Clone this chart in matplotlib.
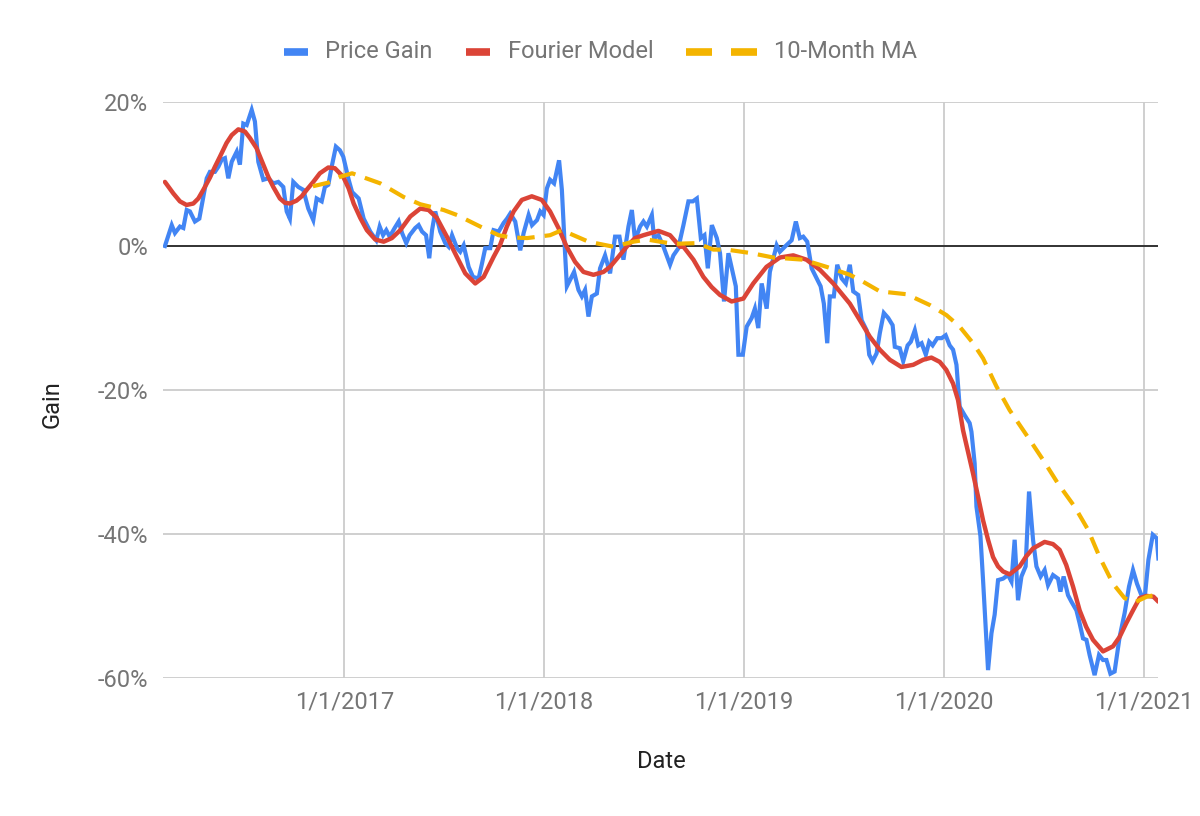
import pandas as pd
import matplotlib
matplotlib.use("Agg")
import matplotlib.pyplot as plt
import matplotlib.dates as mdates
from matplotlib.lines import Line2D
from matplotlib.ticker import FuncFormatter

plt.rcParams["font.family"] = ["Roboto", "DejaVu Sans"]

# --- data (dates as decimal years, values in %) ---
price_years = [
    2016.105, 2016.139, 2016.155, 2016.18, 2016.197, 2016.214, 2016.23, 2016.255, 2016.277, 2016.297,
    2016.314, 2016.33, 2016.355, 2016.372, 2016.389, 2016.405, 2016.422, 2016.439, 2016.464, 2016.48,
    2016.497, 2016.514, 2016.539, 2016.555, 2016.572, 2016.597, 2016.622, 2016.647, 2016.672, 2016.697,
    2016.714, 2016.73, 2016.747, 2016.772, 2016.797, 2016.822, 2016.847, 2016.864, 2016.889, 2016.905,
    2016.922, 2016.939, 2016.96, 2016.98, 2016.997, 2017.022, 2017.039, 2017.072, 2017.097, 2017.13,
    2017.16, 2017.177, 2017.194, 2017.21, 2017.227, 2017.252, 2017.272, 2017.289, 2017.31, 2017.327,
    2017.355, 2017.372, 2017.389, 2017.409, 2017.425, 2017.439, 2017.455, 2017.48, 2017.505, 2017.522,
    2017.539, 2017.564, 2017.58, 2017.597, 2017.622, 2017.644, 2017.672, 2017.689, 2017.705, 2017.73,
    2017.747, 2017.772, 2017.797, 2017.814, 2017.83, 2017.855, 2017.88, 2017.897, 2017.922, 2017.939,
    2017.964, 2017.98, 2017.997, 2018.014, 2018.03, 2018.05, 2018.075, 2018.089, 2018.105, 2018.114,
    2018.13, 2018.15, 2018.172, 2018.189, 2018.205, 2018.222, 2018.239, 2018.264, 2018.28, 2018.305,
    2018.33, 2018.355, 2018.377, 2018.397, 2018.422, 2018.439, 2018.455, 2018.48, 2018.497, 2018.514,
    2018.539, 2018.55, 2018.572, 2018.597, 2018.63, 2018.647, 2018.672, 2018.68, 2018.697, 2018.722,
    2018.744, 2018.764, 2018.784, 2018.802, 2018.819, 2018.839, 2018.864, 2018.88, 2018.9, 2018.922,
    2018.939, 2018.959, 2018.972, 2018.994, 2019.014, 2019.039, 2019.055, 2019.072, 2019.089, 2019.114,
    2019.13, 2019.164, 2019.18, 2019.205, 2019.239, 2019.26, 2019.28, 2019.297, 2019.317, 2019.339,
    2019.364, 2019.384, 2019.4, 2019.417, 2019.43, 2019.45, 2019.467, 2019.489, 2019.51, 2019.53,
    2019.547, 2019.572, 2019.589, 2019.614, 2019.627, 2019.644, 2019.664, 2019.68, 2019.7, 2019.722,
    2019.744, 2019.755, 2019.78, 2019.797, 2019.819, 2019.835, 2019.855, 2019.872, 2019.889, 2019.91,
    2019.927, 2019.944, 2019.967, 2019.989, 2020.01, 2020.03, 2020.047, 2020.064, 2020.08, 2020.105,
    2020.13, 2020.139, 2020.155, 2020.164, 2020.184, 2020.197, 2020.222, 2020.239, 2020.255, 2020.272,
    2020.297, 2020.322, 2020.339, 2020.355, 2020.372, 2020.389, 2020.41, 2020.427, 2020.447, 2020.464,
    2020.485, 2020.505, 2020.522, 2020.547, 2020.572, 2020.584, 2020.6, 2020.622, 2020.639, 2020.664,
    2020.68, 2020.697, 2020.714, 2020.73, 2020.755, 2020.777, 2020.797, 2020.814, 2020.834, 2020.855,
    2020.88, 2020.905, 2020.927, 2020.947, 2020.967, 2020.989, 2021.005, 2021.022, 2021.044, 2021.064,
    2021.072,
]
price_gain = [
    0.0, 2.9, 1.8, 2.7, 2.5, 5.0, 4.8, 3.4, 3.8, 6.8,
    9.4, 10.3, 10.3, 11.0, 12.0, 12.2, 9.4, 11.7, 13.1, 11.3,
    17.0, 16.8, 18.9, 17.3, 11.7, 9.2, 9.4, 8.7, 8.9, 8.2,
    4.8, 3.8, 8.9, 8.2, 7.8, 5.2, 3.6, 6.6, 6.2, 8.2,
    8.5, 11.0, 13.8, 13.3, 12.4, 9.2, 7.5, 6.6, 3.8, 2.0,
    0.8, 2.7, 1.5, 2.2, 1.3, 2.5, 3.4, 1.8, 0.4, 1.5,
    2.5, 2.9, 2.0, 1.5, -1.7, 2.2, 4.8, 2.0, 0.4, -0.1,
    1.5, -0.3, -0.8, 0.1, -2.9, -4.3, -4.5, -2.4, -0.3, -0.3,
    2.2, 2.0, 3.2, 3.8, 4.5, 3.4, -0.6, 1.8, 4.3, 2.9,
    3.6, 4.8, 4.3, 8.0, 9.2, 8.7, 11.9, 7.8, -1.0, -5.6,
    -4.7, -3.6, -6.1, -7.0, -6.1, -9.8, -7.0, -6.6, -3.1, -1.3,
    -3.8, 1.3, 1.3, -1.9, 2.7, 5.0, 0.8, 2.7, 3.4, 2.7,
    4.3, 1.1, 1.5, -0.1, -2.6, -1.3, -0.3, 0.8, 2.9, 6.2,
    6.2, 6.6, 1.1, 1.5, -3.1, 2.9, 1.1, -1.0, -7.7, -1.0,
    -3.1, -5.6, -15.1, -15.1, -11.2, -10.0, -8.7, -11.4, -5.2, -8.7,
    -3.6, 0.1, -0.8, -0.1, 0.8, 3.4, 1.1, 1.3, 0.6, -3.1,
    -4.5, -5.6, -8.0, -13.5, -7.0, -7.0, -2.6, -4.5, -5.2, -2.6,
    -6.3, -6.8, -10.3, -11.7, -15.1, -16.0, -14.9, -12.1, -9.3, -10.0,
    -11.0, -14.0, -14.2, -16.0, -13.8, -13.3, -11.7, -13.8, -13.5, -15.1,
    -13.3, -13.8, -12.8, -12.8, -12.4, -13.8, -14.4, -16.5, -22.3, -23.5,
    -24.6, -25.8, -30.2, -36.2, -40.3, -46.4, -58.9, -53.8, -51.2, -46.4,
    -46.2, -45.7, -46.6, -40.8, -49.2, -45.9, -44.5, -34.1, -40.8, -44.5,
    -45.9, -45.0, -47.1, -45.7, -46.2, -48.0, -45.9, -48.5, -49.4, -50.6,
    -52.4, -54.5, -54.7, -56.8, -59.6, -56.8, -57.5, -57.5, -59.4, -59.1,
    -54.3, -51.0, -47.3, -45.0, -46.9, -48.5, -48.5, -43.6, -40.1, -40.6,
    -43.4,
]

fourier_years = [
    2016.105, 2016.147, 2016.18, 2016.213, 2016.247, 2016.272, 2016.297, 2016.33, 2016.355, 2016.38,
    2016.413, 2016.439, 2016.472, 2016.505, 2016.53, 2016.563, 2016.597, 2016.622, 2016.647, 2016.68,
    2016.705, 2016.73, 2016.763, 2016.789, 2016.814, 2016.847, 2016.88, 2016.922, 2016.955, 2016.997,
    2017.022, 2017.047, 2017.08, 2017.113, 2017.155, 2017.197, 2017.238, 2017.28, 2017.33, 2017.38,
    2017.422, 2017.463, 2017.513, 2017.563, 2017.605, 2017.655, 2017.697, 2017.747, 2017.78, 2017.813,
    2017.847, 2017.888, 2017.938, 2017.988, 2018.03, 2018.072, 2018.113, 2018.155, 2018.197, 2018.247,
    2018.297, 2018.33, 2018.372, 2018.413, 2018.455, 2018.497, 2018.572, 2018.63, 2018.68, 2018.697,
    2018.747, 2018.797, 2018.838, 2018.88, 2018.938, 2018.997, 2019.047, 2019.113, 2019.18, 2019.247,
    2019.313, 2019.38, 2019.447, 2019.53, 2019.58, 2019.63, 2019.68, 2019.73, 2019.788, 2019.847,
    2019.897, 2019.938, 2019.98, 2020.013, 2020.047, 2020.072, 2020.097, 2020.122, 2020.147, 2020.172,
    2020.197, 2020.222, 2020.247, 2020.272, 2020.297, 2020.33, 2020.38, 2020.413, 2020.447, 2020.505,
    2020.547, 2020.58, 2020.613, 2020.647, 2020.68, 2020.713, 2020.747, 2020.797, 2020.847, 2020.88,
    2020.913, 2020.947, 2020.98, 2021.013, 2021.047, 2021.072,
]
fourier_model = [
    8.9, 7.3, 6.2, 5.7, 5.9, 6.6, 7.8, 9.5, 11.0, 12.4,
    14.3, 15.4, 16.2, 15.9, 15.0, 13.6, 11.3, 9.6, 8.2, 6.6,
    6.0, 5.9, 6.3, 6.9, 7.8, 8.9, 10.1, 10.9, 10.8, 9.6,
    8.0, 5.9, 3.9, 2.2, 0.9, 0.6, 1.1, 2.2, 4.1, 5.2,
    5.0, 3.9, 1.3, -1.5, -3.8, -5.2, -4.3, -1.5, 0.2, 2.7,
    4.8, 6.4, 6.9, 6.4, 4.8, 2.5, -0.1, -2.2, -3.6, -4.0,
    -3.6, -2.9, -1.5, -0.1, 1.1, 1.5, 2.1, 1.5, -0.1, -0.1,
    -1.9, -4.3, -5.7, -6.8, -7.7, -7.3, -5.2, -2.9, -1.6, -1.3,
    -1.9, -3.3, -5.2, -8.0, -10.3, -12.6, -14.4, -15.8, -16.8, -16.5,
    -15.8, -15.5, -16.1, -17.2, -19.1, -21.4, -25.6, -28.6, -31.6, -34.8,
    -38.1, -40.8, -43.2, -44.5, -45.2, -45.6, -44.5, -43.1, -42.0, -41.1,
    -41.4, -42.2, -44.3, -47.3, -50.6, -52.9, -54.7, -56.3, -55.6, -54.3,
    -52.4, -50.6, -48.9, -48.6, -48.7, -49.4,
]

ma_years = [
    2016.845, 2016.922, 2016.98, 2017.039, 2017.18, 2017.297, 2017.38, 2017.497, 2017.564, 2017.68,
    2017.772, 2017.83, 2017.914, 2018.03, 2018.089, 2018.164, 2018.222, 2018.347, 2018.447, 2018.514,
    2018.58, 2018.647, 2018.764, 2018.847, 2018.914, 2019.039, 2019.147, 2019.297, 2019.414, 2019.53,
    2019.58, 2019.68, 2019.814, 2019.93, 2020.014, 2020.08, 2020.147, 2020.197, 2020.264, 2020.33,
    2020.43, 2020.497, 2020.572, 2020.655, 2020.722, 2020.78, 2020.847, 2020.905, 2020.955, 2021.014,
    2021.072,
]
ma_10_month = [
    8.3, 8.8, 9.6, 10.1, 8.7, 6.8, 5.8, 5.0, 4.3, 2.7,
    1.5, 1.2, 1.1, 1.5, 2.2, 1.3, 0.6, -0.1, 0.6, 0.9,
    0.6, 0.3, 0.4, -0.5, -0.5, -1.0, -1.6, -1.9, -2.9, -4.0,
    -4.7, -6.3, -6.7, -8.2, -9.6, -11.2, -13.5, -15.6, -19.5, -22.8,
    -26.9, -29.7, -33.0, -36.2, -39.4, -43.2, -46.9, -48.9, -49.5, -48.7,
    -48.4,
]

tick_years = [2017, 2018, 2019, 2020, 2021]
y_ticks = [20, 0, -20, -40, -60]

blue = "#4285f4"
red = "#db4437"
yellow = "#f4b400"


def to_dates(years):
    out = []
    for y in years:
        yr = int(y)
        out.append(pd.Timestamp(yr, 1, 1) + pd.Timedelta(days=(y - yr) * 365.25))
    return out


fig = plt.figure(figsize=(12, 8.16), dpi=100)
ax = fig.add_axes([0.1362, 0.1691, 0.8288, 0.7059])

grid_color = "#cccccc"
text_gray = "#757575"

ax.plot(to_dates(price_years), price_gain, color=blue, lw=3.0,
        solid_joinstyle="miter", zorder=3)
ax.plot(to_dates(fourier_years), fourier_model, color=red, lw=3.2,
        solid_joinstyle="round", solid_capstyle="round", zorder=4)
ax.plot(to_dates(ma_years), ma_10_month, color=yellow, lw=3.0,
        dashes=(4.2, 2.4), zorder=5)

ax.axhline(0, color="#333333", lw=1.4, zorder=2)

ax.set_xlim(to_dates([2016.0975, 2021.07]))
ax.set_ylim(-60, 20)
ax.set_yticks(y_ticks)
ax.yaxis.set_major_formatter(FuncFormatter(lambda v, p: f"{v:.0f}%"))
ax.set_xticks(to_dates(tick_years))
ax.xaxis.set_major_formatter(FuncFormatter(
    lambda v, p: "{d.month}/{d.day}/{d.year}".format(d=mdates.num2date(v))))

ax.grid(True, color=grid_color, lw=1.3, zorder=1)
ax.set_axisbelow(True)
for s in ax.spines.values():
    s.set_visible(False)
ax.tick_params(length=0, labelsize=17, colors=text_gray)
ax.tick_params(axis="y", pad=11)
ax.tick_params(axis="x", pad=9)

fig.text(52 / 1200, 1 - 404 / 816, "Gain", rotation=90, ha="center", va="center",
         fontsize=17, color="#222222")
fig.text(661 / 1200, 1 - 762 / 816, "Date", ha="center", va="center",
         fontsize=17, color="#222222")

# legend drawn by hand: short swatches, two dashes for the MA
ly = 1 - 52 / 816
legend_items = [
    ("Price Gain", blue, [(284, 308)], 325),
    ("Fourier Model", red, [(466, 490)], 508),
    ("10-Month MA", yellow, [(686, 712), (731, 757)], 774),
]
for label, color, segs, tx in legend_items:
    for x0, x1 in segs:
        fig.add_artist(Line2D([x0 / 1200, x1 / 1200], [ly, ly], color=color, lw=5.5,
                              solid_capstyle="butt", transform=fig.transFigure))
    fig.text(tx / 1200, ly, label, ha="left", va="center", fontsize=17, color=text_gray)

fig.savefig("out.png", dpi=100)
